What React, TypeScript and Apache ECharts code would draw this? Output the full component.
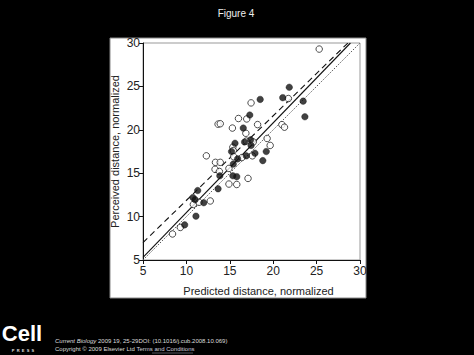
import React, { useEffect, useRef } from "react";
import * as echarts from "echarts";

const xTicks = [5, 10, 15, 20, 25, 30];
const yTicks = [5, 10, 15, 20, 25, 30];

const openPoints: number[][] = [
  [25.3, 29.3], [8.4, 8.0], [9.3, 8.75], [10.8, 11.4], [11.45, 11.65],
  [12.75, 11.8], [12.3, 17.0], [13.35, 16.25], [13.9, 16.25], [13.3, 15.45],
  [13.8, 15.2], [13.65, 20.65], [13.9, 20.7], [14.9, 15.55], [14.9, 13.75],
  [15.8, 13.7], [15.3, 20.2], [15.35, 18.0], [15.4, 17.6], [15.45, 16.9],
  [16.4, 16.8], [16.0, 21.3], [16.95, 21.25], [17.45, 23.1], [16.85, 19.6],
  [16.9, 18.7], [17.7, 18.6], [18.2, 20.6], [17.6, 17.0], [17.1, 14.4],
  [19.3, 19.0], [19.65, 18.2], [21.0, 20.6], [21.3, 20.3], [21.75, 23.6],
];

const filledPoints: number[][] = [
  [9.8, 9.05], [11.1, 10.05], [11.3, 13.0], [10.75, 12.2], [11.0, 11.95],
  [12.0, 11.6], [13.65, 13.2], [13.85, 14.7], [15.35, 14.7], [15.8, 14.6],
  [15.4, 16.05], [15.9, 16.65], [15.6, 18.45], [15.2, 17.5], [16.55, 20.2],
  [16.7, 18.6], [17.3, 21.7], [17.4, 18.85], [17.45, 18.2], [16.9, 17.0],
  [17.9, 17.3], [18.5, 23.5], [18.8, 16.45], [19.2, 17.5], [21.1, 23.7],
  [21.85, 24.9], [23.45, 23.3], [23.65, 21.5],
];

const identityLine: number[][] = [[5, 5], [30, 30]];
const solidFit: number[][] = [[5, 5.3], [28.9, 30]];
const dashedFit: number[][] = [[5, 7.0], [28.6, 30]];

export default function App() {
  const ref = useRef<HTMLDivElement>(null);
  useEffect(() => {
    if (!ref.current) return;
    const chart = echarts.init(ref.current, null, { renderer: "svg" });
    const font = "'Liberation Sans', Arial, sans-serif";
    chart.setOption({
      animation: false,
      backgroundColor: "#000",
      textStyle: { fontFamily: font },
      grid: { left: 143, right: 114, top: 43, bottom: 95 },
      xAxis: {
        type: "value",
        min: xTicks[0],
        max: xTicks[xTicks.length - 1],
        interval: 5,
        name: "Predicted distance, normalized",
        nameLocation: "middle",
        nameGap: 25,
        nameTextStyle: { color: "#222", fontSize: 11, fontFamily: font, padding: [0, 0, 0, 14] },
        axisLine: { lineStyle: { color: "#111", width: 1 } },
        axisTick: { show: true, length: 4, lineStyle: { color: "#111" } },
        axisLabel: { color: "#222", fontSize: 12, margin: 5, fontFamily: font },
        splitLine: { show: false },
      },
      yAxis: {
        type: "value",
        min: yTicks[0],
        max: yTicks[yTicks.length - 1],
        interval: 5,
        name: "Perceived distance, normalized",
        nameLocation: "middle",
        nameGap: 23,
        nameTextStyle: { color: "#222", fontSize: 11, fontFamily: font },
        axisLine: { lineStyle: { color: "#111", width: 1 } },
        axisTick: { show: true, length: 4, lineStyle: { color: "#111" } },
        axisLabel: { color: "#222", fontSize: 12, margin: 3, fontFamily: font },
        splitLine: { show: false },
      },
      graphic: [
        {
          type: "rect",
          z: -10,
          shape: { x: 110, y: 38, width: 256, height: 260 },
          style: { fill: "#fff", stroke: "#888", lineWidth: 1 },
          silent: true,
        },
        {
          type: "rect",
          z: -5,
          shape: { x: 143, y: 43, width: 217, height: 217 },
          style: { fill: "none", stroke: "#999", lineWidth: 1 },
          silent: true,
        },
        {
          type: "text",
          x: 236,
          y: 13,
          style: {
            text: "Figure 4",
            fill: "#eee",
            font: "10px " + font,
            align: "center",
            verticalAlign: "middle",
          },
        },
        {
          type: "text",
          x: 22,
          y: 333,
          style: {
            text: "Cell",
            fill: "#fff",
            font: "bold 22px " + font,
            align: "center",
            verticalAlign: "middle",
          },
        },
        {
          type: "text",
          x: 23,
          y: 350,
          style: {
            text: "P  R  E  S  S",
            fill: "#ddd",
            font: "bold 4px " + font,
            align: "center",
            verticalAlign: "middle",
          },
        },
        {
          type: "text",
          x: 55,
          y: 341,
          style: {
            text: "{i|Current Biology} 2009 19, 25-29DOI: (10.1016/j.cub.2008.10.069)",
            fill: "#ddd",
            font: "6px " + font,
            verticalAlign: "middle",
            rich: { i: { fontStyle: "italic", fontSize: 6, fill: "#ddd" } },
          },
        },
        {
          type: "text",
          x: 55,
          y: 349,
          style: {
            text: "Copyright © 2009 Elsevier Ltd {u|Terms and Conditions}",
            fill: "#ddd",
            font: "6px " + font,
            verticalAlign: "middle",
            rich: { u: { fontSize: 6, fill: "#ccd" } },
          },
        },
        {
          type: "line",
          shape: { x1: 152, y1: 353, x2: 193, y2: 353 },
          style: { stroke: "#aab", lineWidth: 0.5 },
        },
      ],
      series: [
        {
          type: "line",
          data: identityLine,
          symbol: "none",
          lineStyle: { color: "#555", width: 1, type: [1.5, 1.5] },
          z: 1,
        },
        {
          type: "line",
          data: solidFit,
          symbol: "none",
          lineStyle: { color: "#111", width: 1.1 },
          z: 1,
        },
        {
          type: "line",
          data: dashedFit,
          symbol: "none",
          lineStyle: { color: "#111", width: 1.1, type: [6, 4] },
          z: 1,
        },
        {
          type: "scatter",
          data: openPoints,
          symbol: "circle",
          symbolSize: 6.5,
          itemStyle: { color: "#fff", borderColor: "#222", borderWidth: 1 },
          z: 3,
        },
        {
          type: "scatter",
          data: filledPoints,
          symbol: "circle",
          symbolSize: 6.5,
          itemStyle: { color: "#111", borderColor: "#111", borderWidth: 0.5 },
          z: 4,
        },
      ],
    });
    return () => chart.dispose();
  }, []);
  return (
    <div
      ref={ref}
      style={{ position: "fixed", left: 0, top: 0, width: 474, height: 355 }}
    />
  );
}
